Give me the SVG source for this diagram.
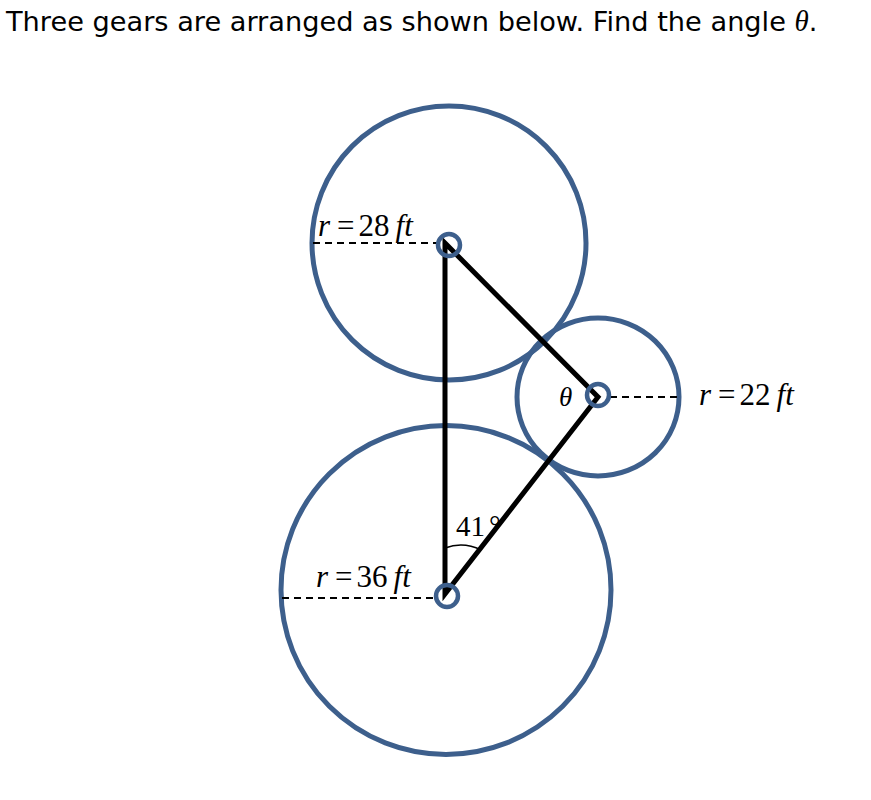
<svg xmlns="http://www.w3.org/2000/svg" width="871" height="800" viewBox="0 0 871 800">
<style>
.g{fill:none;stroke:#3d5f8c;stroke-width:5}
.h{fill:none;stroke:#3d5f8c;stroke-width:4.5}
.d{stroke:#000;stroke-width:2;stroke-dasharray:7,5}
.m{font-family:"Liberation Serif",serif;fill:#000}
</style>
<rect width="871" height="800" fill="#fff"/>
<text x="6" y="31" font-family="DejaVu Sans,sans-serif" font-size="27.2" fill="#000">Three gears are arranged as shown below. Find the angle <tspan font-family="Liberation Serif,serif" font-style="italic" font-size="29">θ</tspan>.</text>
<g id="gear-top"><ellipse class="g" cx="449" cy="243" rx="137" ry="137"/></g>
<g id="gear-right"><ellipse class="g" cx="598" cy="397" rx="81" ry="79"/></g>
<g id="gear-bottom"><ellipse class="g" cx="446" cy="590" rx="165" ry="164.5"/></g>
<g id="connectors">
<line class="d" x1="313" y1="243" x2="438" y2="243"/>
<line class="d" x1="610" y1="397" x2="680" y2="397"/>
<line class="d" x1="282" y1="598" x2="436" y2="598"/>
<polygon points="445,243 598,397 445,594" fill="none" stroke="#000" stroke-width="5" stroke-linejoin="miter"/>
<path d="M445,548 A46,46 0 0 1 481,550" fill="none" stroke="#000" stroke-width="1.5"/>
</g>
<g id="hubs">
<circle class="h" cx="449" cy="245" r="11"/>
<circle class="h" cx="598" cy="395" r="11"/>
<circle class="h" cx="447" cy="596" r="11"/>
</g>
<g id="labels">
<text class="m" x="318" y="236" style="font-size:31px"><tspan font-style="italic">r</tspan><tspan dx="7">=</tspan><tspan dx="4">28</tspan><tspan font-style="italic" dx="6">ft</tspan></text>
<text class="m" x="699" y="405" style="font-size:31px"><tspan font-style="italic">r</tspan><tspan dx="7">=</tspan><tspan dx="4">22</tspan><tspan font-style="italic" dx="6">ft</tspan></text>
<text class="m" x="316" y="587" style="font-size:31px"><tspan font-style="italic">r</tspan><tspan dx="7">=</tspan><tspan dx="4">36</tspan><tspan font-style="italic" dx="6">ft</tspan></text>
<text class="m" x="559" y="406" style="font-size:27px;font-style:italic">θ</text>
<text class="m" x="456" y="536" style="font-size:29px">41<tspan dx="4">°</tspan></text>
</g>
</svg>
